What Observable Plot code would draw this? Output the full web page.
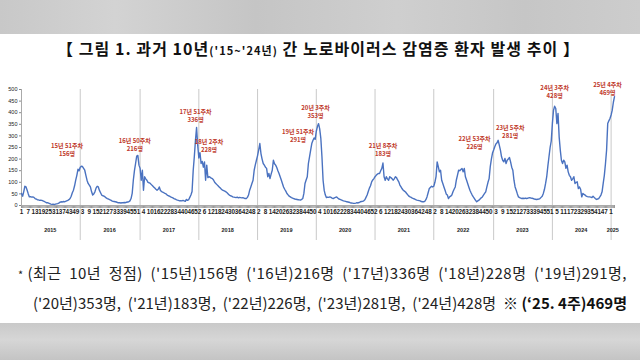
<!DOCTYPE html>
<html><head><meta charset="utf-8">
<script src="https://cdn.jsdelivr.net/npm/d3@7"></script>
<script src="https://cdn.jsdelivr.net/npm/@observablehq/plot@0.6"></script>
<style>
html,body{margin:0;padding:0;background:#fff;}
#page{position:relative;width:640px;height:360px;overflow:hidden;background:#fff;font-family:"Noto Sans CJK KR","Noto Sans",sans-serif;}
#topband{position:absolute;left:0;top:0;width:640px;height:34px;background:linear-gradient(90deg,#c8c8c8 0%,#d3d3d3 18%,#c5c5c5 40%,#cfcfcf 62%,#c6c6c6 82%,#cdcdcd 100%);}
#botband{position:absolute;left:0;top:323px;width:640px;height:37px;background:linear-gradient(180deg,#c9c9c9 0%,#d6d6d6 45%,#c4c4c4 100%);}
#title{position:absolute;left:57px;top:35px;white-space:pre;font-weight:700;font-size:16px;line-height:26px;color:#111;}
#title .sm{font-size:11px;font-weight:700;}
#chart{position:absolute;left:0;top:80px;}
.cap{position:absolute;white-space:pre;font-size:15px;line-height:20px;color:#222;}
.cap .ast{font-size:11px;}
.cap b{font-weight:700;color:#111;}
</style></head>
<body><div id="page">
<div id="topband"></div>
<div id="title">【 그림 1. 과거 10년<span class="sm">('15~'24년)</span> 간 노로바이러스 감염증 환자 발생 추이 】</div>
<div id="chart"></div>
<div id="cap1" class="cap" style="left:18px;top:263px;"><span class="ast">*</span> (최근  10년  정점)  ('15년)156명  ('16년)216명  ('17년)336명  ('18년)228명  ('19년)291명,</div>
<div id="cap2" class="cap" style="left:33px;top:293px;">('20년)353명,  ('21년)183명,  ('22년)226명,  ('23년)281명,  ('24년)428명  <b>※ (‘25. 4주)469명</b></div>
<div id="botband"></div>
</div>
<script>
const years = [2015, 2016, 2017, 2018, 2019, 2020, 2021, 2022, 2023, 2024, 2025];
const w2015 = [52,40,60,83,80,66,50,37,38,36,37,35,30,28,25,24,22,23,22,20,18,15,12,12,10,8,6,5,6,4,6,7,8,10,14,16,15,17,16,18,20,22,25,30,40,55,66,85,109,130,156,150];
const w2016 = [165,169,168,160,152,130,109,95,88,80,60,45,50,59,75,83,80,65,55,45,42,40,37,33,30,28,25,23,20,18,17,16,15,13,12,12,11,12,12,13,12,14,15,16,20,30,52,109,150,181,213,216,174];
const w2017 = [160,109,152,66,124,115,109,100,98,95,90,85,80,75,70,66,70,80,65,60,58,55,52,50,45,42,40,37,35,33,30,28,25,23,22,20,21,20,22,20,18,26,22,25,35,45,60,150,210,280,336,260];
const w2018 = [205,228,181,190,165,188,109,174,120,124,122,118,116,110,100,95,90,85,80,75,70,66,64,62,59,55,50,45,42,40,37,36,35,34,36,33,35,34,33,34,32,30,30,35,45,66,80,95,109,152,175,195];
const w2019 = [215,240,267,224,200,181,174,165,160,124,138,116,135,152,195,180,174,164,150,138,124,110,95,80,70,62,52,46,40,37,34,32,30,28,27,26,25,24,23,26,30,52,95,110,124,181,210,239,267,280,291,285];
const w2020 = [320,340,353,330,290,210,109,65,45,34,36,35,37,35,32,30,33,35,37,32,28,26,24,22,20,19,18,16,15,14,12,11,10,9,9,10,12,11,13,16,17,18,20,25,35,45,60,75,85,102,110,116];
const w2021 = [124,130,135,138,138,150,160,183,124,109,124,115,109,124,120,116,109,115,124,120,110,102,88,80,72,66,62,58,52,46,40,37,35,32,30,28,25,23,22,21,20,17,16,16,18,25,37,55,73,78,83,80];
const w2022 = [83,100,124,188,167,145,152,109,95,80,66,50,45,30,37,40,45,59,70,80,110,131,152,150,155,160,145,160,124,110,95,80,66,55,45,37,30,22,16,20,23,28,33,37,45,52,59,80,100,116,167,200,226];
const w2023 = [239,253,265,270,281,260,239,210,195,188,203,181,195,200,207,188,165,152,109,80,66,50,37,34,32,30,31,30,32,30,31,33,34,32,31,30,28,27,26,27,28,30,35,40,52,70,95,124,170,210,250,278];
const w2024 = [353,410,428,418,353,397,296,239,195,181,195,188,160,174,145,130,124,109,115,124,95,100,102,73,80,70,37,52,48,45,40,38,37,37,36,34,40,35,30,26,28,30,37,45,59,95,130,180,239,353,365,375];
const w2025 = [390,411,445,469];
const yTicks = [0, 50, 100, 150, 200, 250, 300, 350, 400, 450, 500];
const peakTitles = ["15년 51주차","16년 50주차","17년 51주차","18년 2주차","19년 51주차","20년 3주차","21년 8주차","22년 53주차","23년 5주차","24년 3주차","25년 4주차"];
const peakCounts = ["156명","216명","336명","228명","291명","353명","183명","226명","281명","428명","469명"];
// label nudges (px) relative to each year's highest point
const nudges = [[-11,-20],[-3,-11],[-1,-12],[9,-7],[-16,-3],[-3,-12],[0,-14],[-18,-11],[12,-9],[0,-15],[-7,-8]];

const yearly = [w2015,w2016,w2017,w2018,w2019,w2020,w2021,w2022,w2023,w2024,w2025];
const rows = [];
const yearInfo = [];
let idx = 0;
yearly.forEach((arr, k) => {
  const start = idx;
  arr.forEach((v, j) => rows.push({i: idx++, year: years[k], week: j + 1, value: v}));
  yearInfo.push({year: String(years[k]), start, mid: (start + idx - 1) / 2});
});
const allIdx = rows.map(d => d.i);
const labelIdx = allIdx.filter(i => i % 6 === 0);
const weekOf = new Map(rows.map(d => [d.i, d.week]));

const labelMarks = years.map((y, k) => {
  const yr = rows.filter(d => d.year === y);
  const top = yr.reduce((a, b) => (b.value > a.value ? b : a));
  return Plot.text([top], {
    x: "i", y: "value",
    text: () => peakTitles[k] + "\n" + peakCounts[k],
    dx: nudges[k][0], dy: nudges[k][1],
    lineAnchor: "middle", lineHeight: 1.35,
    fontSize: 6, fontWeight: "bold", fill: "#c0392b",
    fontFamily: "Noto Sans CJK KR, sans-serif"
  });
});

const chart = Plot.plot({
  width: 640, height: 165,
  marginLeft: 21, marginRight: 26, marginTop: 9, marginBottom: 40,
  x: {domain: [0, rows.length - 1]},
  y: {domain: [0, 500]},
  style: {background: "transparent", fontFamily: "Liberation Sans, Arial, sans-serif", color: "#222"},
  marks: [
    Plot.ruleX(yearInfo.slice(1), {x: "start", stroke: "#c9c9c9", strokeWidth: 1, insetBottom: -35}),
    Plot.frame({anchor: "left", stroke: "#aaa"}),
    Plot.axisY({ticks: yTicks, tickSize: 2, tickPadding: 2, fontSize: 5.5, label: null, stroke: "#888"}),
    Plot.axisX({ticks: allIdx, tickSize: 3, tickFormat: () => "", label: null, stroke: "#999"}),
    Plot.axisX({ticks: labelIdx, tickSize: 0, tickPadding: 4, tickFormat: i => weekOf.get(i), fontSize: 6.3, fontWeight: "bold", label: null}),
    Plot.ruleY([0], {stroke: "#aaa"}),
    Plot.text(yearInfo, {x: "mid", text: "year", frameAnchor: "bottom", dy: 26, fontSize: 5.5, fontWeight: "bold"}),
    Plot.lineY(rows, {x: "i", y: "value", stroke: "#4a72c0", strokeWidth: 1.4}),
    ...labelMarks
  ]
});
document.getElementById("chart").appendChild(chart);

function fit(id, target) {
  const el = document.getElementById(id);
  el.style.letterSpacing = "0px";
  const w = el.getBoundingClientRect().width;
  const n = el.textContent.length;
  el.style.letterSpacing = ((target - w) / n) + "px";
}
fit("title", 523);
fit("cap1", 609);
fit("cap2", 594);
</script>
</body></html>
